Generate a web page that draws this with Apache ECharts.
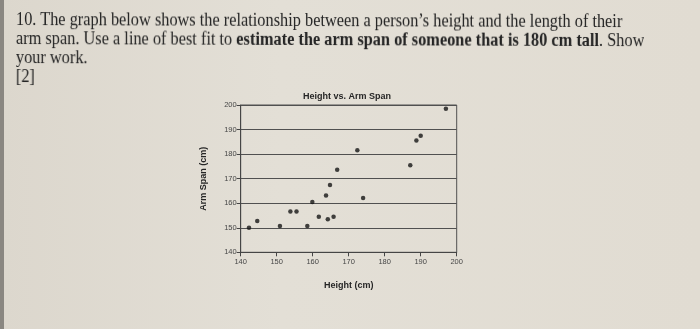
<!DOCTYPE html>
<html><head><meta charset="utf-8">
<script src="https://cdn.jsdelivr.net/npm/echarts@6/dist/echarts.min.js"></script>
<style>
html,body{margin:0;padding:0;width:700px;height:329px;overflow:hidden;background:#e2ddd4;}
#wrap{position:relative;width:700px;height:329px;background:linear-gradient(90deg,#dcd7cd 0%,#e3dfd6 40%,#e1dcd2 100%);}
#edge{position:absolute;left:0;top:0;width:4px;height:329px;background:#8a8781;}
#q{position:absolute;left:16px;top:10px;white-space:nowrap;font-family:"Liberation Serif","Times New Roman",serif;font-size:18px;line-height:19px;color:#232323;transform-origin:0 0;transform:scaleX(0.907) rotate(0.18deg);}
#q b{font-weight:bold;}
#chart{position:absolute;left:0;top:0;width:700px;height:329px;}
</style></head>
<body><div id="wrap"><div id="edge"></div>
<div id="chart"></div>
<div id="q">10. The graph below shows the relationship between a person’s height and the length of their<br>arm span. Use a line of best fit to <b>estimate the arm span of someone that is 180 cm tall</b>. Show<br>your work.<br>[2]</div>
</div>
<script>
const heights = [142.3,144.6,150.9,153.8,155.5,158.5,159.9,161.7,163.7,164.2,164.8,165.8,166.8,172.4,174.0,187.1,188.8,190.0,197.0];
const armSpans = [150.0,152.8,150.7,156.6,156.6,150.7,160.5,154.5,163.1,153.5,167.4,154.5,173.6,181.6,162.1,175.5,185.5,187.5,198.5];
const xTicks = [140,150,160,170,180,190,200];
const yTicks = [140,150,160,170,180,190,200];
const chartTitle = "Height vs. Arm Span";
const xName = "Height (cm)";
const yName = "Arm Span (cm)";

const pts = heights.map((h,i)=>[h,armSpans[i]]);
const chart = echarts.init(document.getElementById('chart'), null, {renderer:'canvas'});
const axisCol = '#454545';
const sans = 'Liberation Sans, Arial, sans-serif';
chart.setOption({
  backgroundColor:'transparent',
  animation:false,
  title:{text:chartTitle,left:298,top:87,
    textStyle:{fontFamily:sans,fontSize:9,fontWeight:'bold',color:'#262626'}},
  grid:{left:240.7,right:243.3,top:105,bottom:76.7,show:true,borderColor:'#505050',borderWidth:1,backgroundColor:'transparent'},
  xAxis:{type:'value',min:xTicks[0],max:xTicks[xTicks.length-1],interval:10,
    name:xName,nameLocation:'middle',nameGap:29,
    nameTextStyle:{fontFamily:sans,fontSize:9,fontWeight:'bold',color:'#262626'},
    axisLine:{show:true,lineStyle:{color:axisCol,width:1}},
    axisTick:{show:true,length:4,inside:false,lineStyle:{color:axisCol}},
    axisLabel:{fontFamily:sans,fontSize:7.5,color:'#474747',margin:6},
    splitLine:{show:false}},
  yAxis:{type:'value',min:yTicks[0],max:yTicks[yTicks.length-1],interval:10,
    name:yName,nameLocation:'middle',nameGap:33,nameRotate:90,
    nameTextStyle:{fontFamily:sans,fontSize:9,fontWeight:'bold',color:'#262626'},
    axisLine:{show:true,lineStyle:{color:axisCol,width:1}},
    axisTick:{show:true,length:4,lineStyle:{color:axisCol}},
    axisLabel:{fontFamily:sans,fontSize:7.5,color:'#474747',margin:4},
    splitLine:{show:true,lineStyle:{color:'#505050',width:1}}},
  series:[{type:'scatter',data:pts,symbol:'circle',symbolSize:4.5,itemStyle:{color:'#151515'}}]
});
</script>
</body></html>
